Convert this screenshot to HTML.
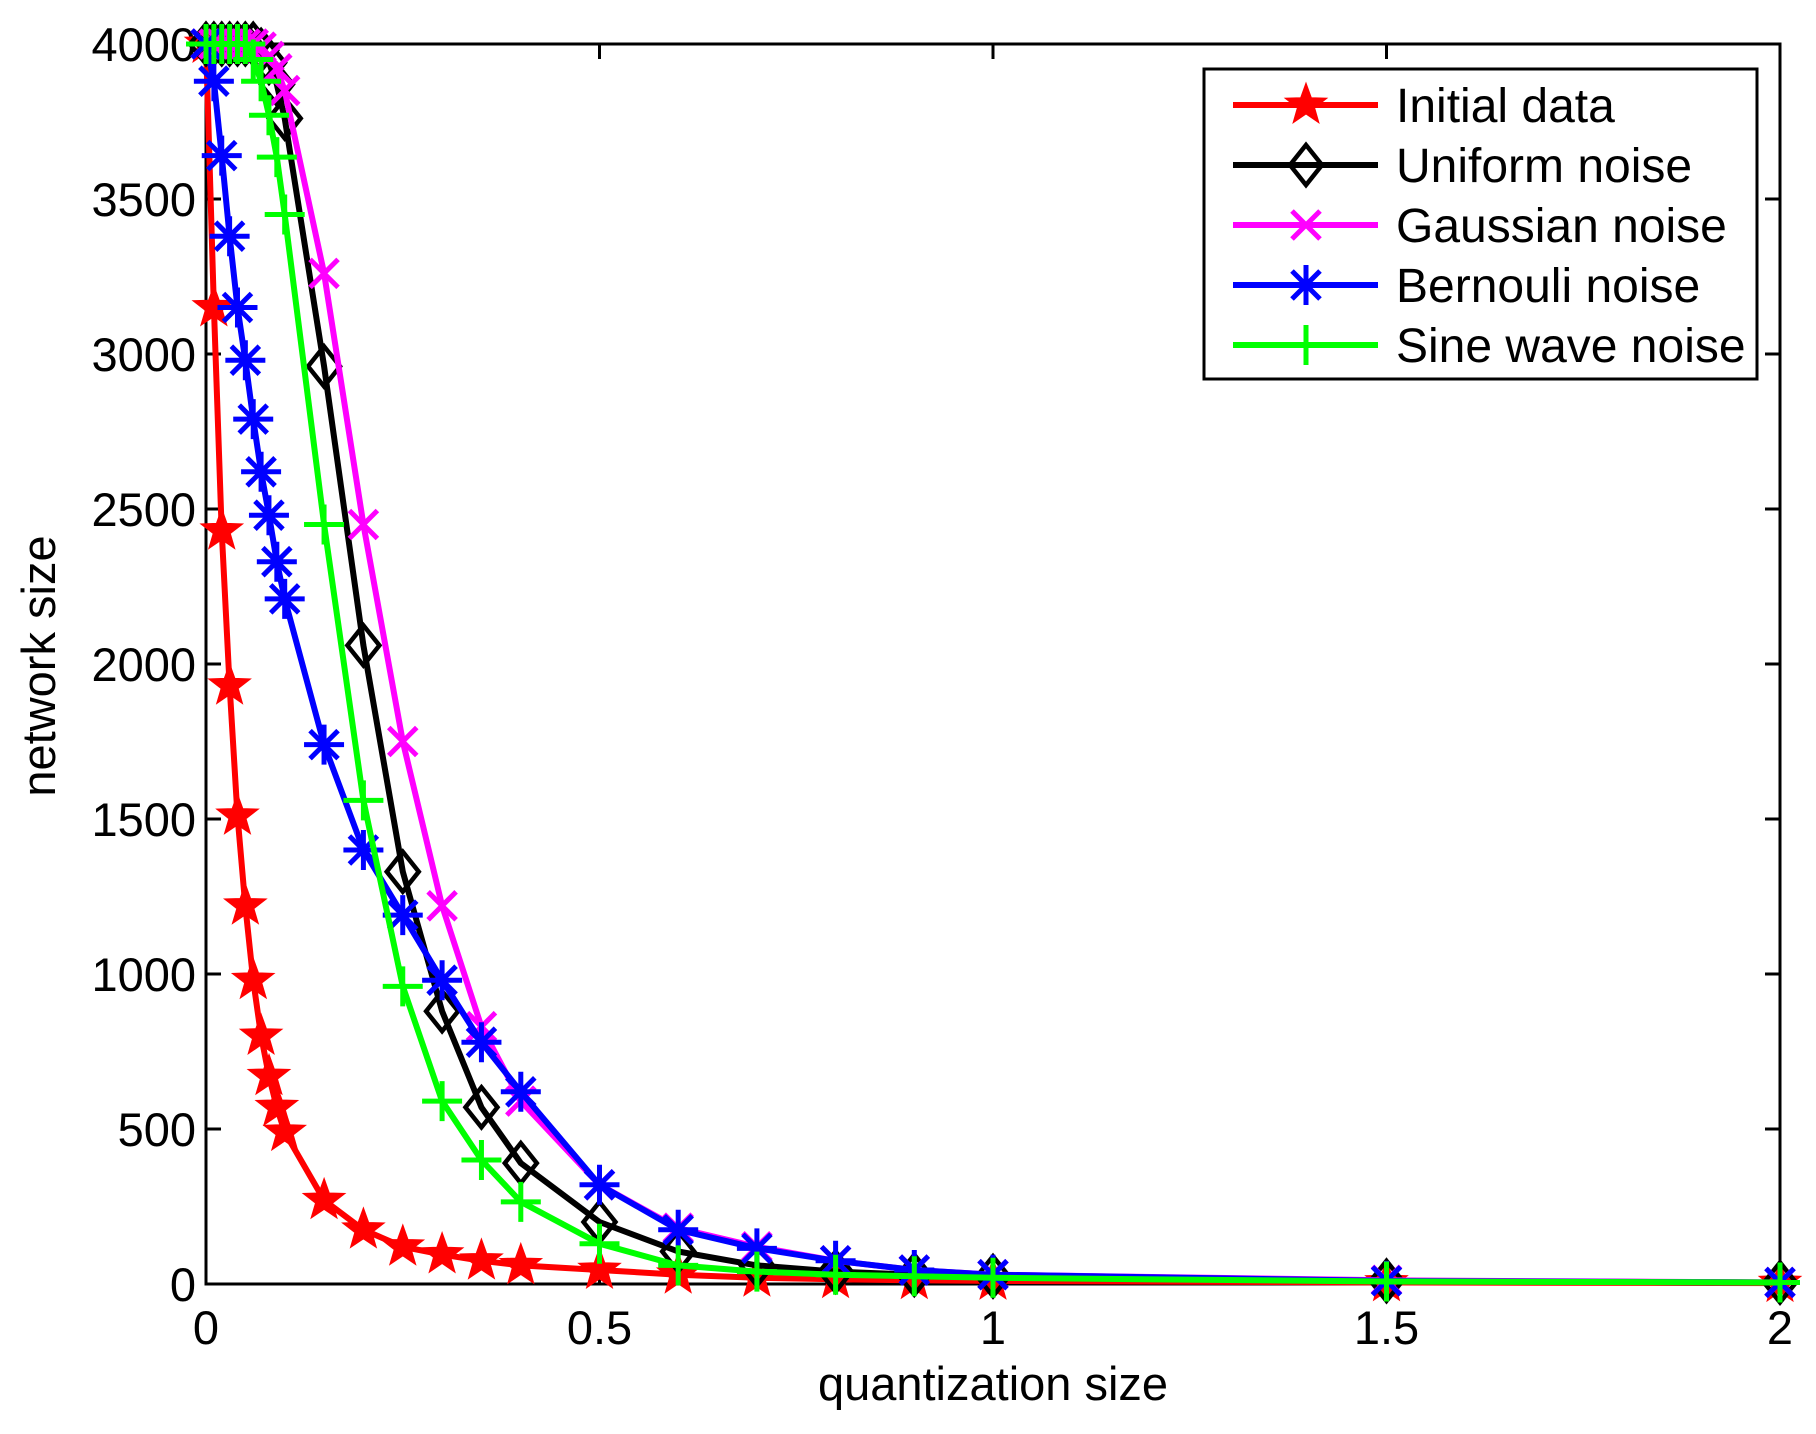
<!DOCTYPE html>
<html><head><meta charset="utf-8"><style>
html,body{margin:0;padding:0;background:#fff;}
svg{display:block;font-family:"Liberation Sans",Arial,sans-serif;}
</style></head><body>
<svg id="chart" width="1816" height="1434" viewBox="0 0 1816 1434" xmlns="http://www.w3.org/2000/svg">
<rect x="0" y="0" width="1816" height="1434" fill="#fff"/>
<g id="axes"></g>
<g id="series"></g>
<g id="legend"></g>
</svg>
<script>
const xValsRed = [0,0.01,0.02,0.03,0.04,0.05,0.06,0.07,0.08,0.09,0.1,0.15,0.2,0.25,0.3,0.35,0.4,0.5,0.6,0.7,0.8,0.9,1,1.5,2];
const xVals = [0,0.01,0.02,0.03,0.04,0.05,0.06,0.07,0.08,0.09,0.1,0.15,0.2,0.25,0.3,0.35,0.4,0.5,0.6,0.7,0.8,0.9,1,1.5,2];
const initialData = [4000,3150,2430,1930,1510,1220,980,800,670,570,490,270,175,120,95,75,60,45,30,20,15,12,10,5,3];
const uniformNoise = [4000,4000,4000,4000,4000,4000,4000,3980,3940,3870,3760,2960,2060,1330,880,570,390,200,105,60,40,30,25,10,5];
const gaussianNoise = [4000,4000,4000,4000,4000,4000,4000,3990,3960,3920,3850,3260,2450,1750,1220,830,590,320,180,120,75,45,30,12,5];
const bernouliNoise = [4000,3880,3640,3380,3150,2980,2790,2620,2480,2330,2210,1740,1400,1190,980,780,620,320,175,115,75,45,30,10,5];
const sineNoise = [4000,4000,4000,4000,4000,4000,3950,3880,3770,3635,3450,2450,1560,960,590,400,265,130,60,40,30,25,20,8,5];
const xTicks = [0,0.5,1,1.5,2];
const xTickLabels = ["0","0.5","1","1.5","2"];
const yTicks = [0,500,1000,1500,2000,2500,3000,3500,4000];
const yTickLabels = ["0","500","1000","1500","2000","2500","3000","3500","4000"];
const legendLabels = ["Initial data","Uniform noise","Gaussian noise","Bernouli noise","Sine wave noise"];

const NS="http://www.w3.org/2000/svg";
const L=206,R=1780,T=44,B=1284;
const sx=v=>L+(v-0)/(2-0)*(R-L);
const sy=v=>B-(v-0)/(4000-0)*(B-T);
function mk(tag,attrs,parent){const e=document.createElementNS(NS,tag);for(const k in attrs)e.setAttribute(k,attrs[k]);parent.appendChild(e);return e;}
const axes=document.getElementById('axes');
const box=mk('rect',{x:L,y:T,width:R-L,height:B-T,fill:'none',stroke:'#000','stroke-width':3},axes);


xTicks.forEach((t,i)=>{
  const x=sx(t);
  const a=mk('line',{x1:x,y1:B,x2:x,y2:B-15,stroke:'#000','stroke-width':3},axes);
  
  
  const b=mk('line',{x1:x,y1:T,x2:x,y2:T+15,stroke:'#000','stroke-width':3},axes);
  
  
  const tx=mk('text',{x:x,y:1344,'font-size':47,'text-anchor':'middle',fill:'#000'},axes);
  tx.textContent=xTickLabels[i];
  
  
});
yTicks.forEach((t,i)=>{
  const y=sy(t);
  const a=mk('line',{x1:L,y1:y,x2:L+15,y2:y,stroke:'#000','stroke-width':3},axes);
  
  
  const b=mk('line',{x1:R,y1:y,x2:R-15,y2:y,stroke:'#000','stroke-width':3},axes);
  
  
  const tx=mk('text',{x:196,y:y+17,'font-size':47,'text-anchor':'end',fill:'#000'},axes);
  tx.textContent=yTickLabels[i];
  
  
});
const xt=mk('text',{x:(L+R)/2,y:1400,'font-size':47,'text-anchor':'middle',fill:'#000'},axes);
xt.textContent='quantization size';


const yt=mk('text',{x:0,y:0,'font-size':47,'text-anchor':'middle',fill:'#000',transform:'translate(55,666) rotate(-90)'},axes);
yt.textContent='network size';



function marker(type,x,y,color,parent){
  const g=mk('g',{},parent);
  const s=20;
  if(type==='star'){
    let p=[];for(let k=0;k<10;k++){const r=k%2?s*0.45:s*1.1;const a=-Math.PI/2+k*Math.PI/5;p.push((x+r*Math.cos(a)).toFixed(1)+','+(y+r*Math.sin(a)).toFixed(1));}
    mk('polygon',{points:p.join(' '),fill:color,stroke:color,'stroke-width':1},g);
  } else if(type==='diamond'){
    mk('polygon',{points:`${x},${y-s} ${x+s*0.8},${y} ${x},${y+s} ${x-s*0.8},${y}`,fill:'none',stroke:color,'stroke-width':4.5},g);
  } else if(type==='x'){
    const d=s*0.7;
    mk('path',{d:`M${x-d},${y-d}L${x+d},${y+d}M${x-d},${y+d}L${x+d},${y-d}`,stroke:color,'stroke-width':5},g);
  } else if(type==='asterisk'){
    const d=s*0.7;
    mk('path',{d:`M${x-d},${y-d}L${x+d},${y+d}M${x-d},${y+d}L${x+d},${y-d}M${x-s},${y}L${x+s},${y}M${x},${y-s}L${x},${y+s}`,stroke:color,'stroke-width':5},g);
  } else {
    mk('path',{d:`M${x-s},${y}L${x+s},${y}M${x},${y-s}L${x},${y+s}`,stroke:color,'stroke-width':5},g);
  }
  return g;
}
const seriesDefs=[
  {name:'initial-data',xs:xValsRed,ys:initialData,color:'#ff0000',m:'star'},
  {name:'uniform-noise',xs:xVals,ys:uniformNoise,color:'#000000',m:'diamond'},
  {name:'gaussian-noise',xs:xVals,ys:gaussianNoise,color:'#ff00ff',m:'x'},
  {name:'bernouli-noise',xs:xVals,ys:bernouliNoise,color:'#0000ff',m:'asterisk'},
  {name:'sine-wave-noise',xs:xVals,ys:sineNoise,color:'#00ff00',m:'plus'}
];
const sg=document.getElementById('series');
seriesDefs.forEach(sd=>{
  const g=mk('g',{},sg);
  
  
  const pts=sd.ys.map((v,i)=>sx(sd.xs[i]).toFixed(1)+','+sy(v).toFixed(1)).join(' ');
  const pl=mk('polyline',{points:pts,fill:'none',stroke:sd.color,'stroke-width':6,'stroke-linejoin':'round'},g);
  
  
  sd.ys.forEach((v,i)=>{
    const m=marker(sd.m,sx(sd.xs[i]),sy(v),sd.color,g);
    
    
  });
});
const lg=document.getElementById('legend');
const lb=mk('rect',{x:1204,y:69,width:553,height:310,fill:'#fff',stroke:'#000','stroke-width':3},lg);


const ly=[105,165,225,285,345];
seriesDefs.forEach((sd,i)=>{
  const g=mk('g',{},lg);
  
  
  mk('line',{x1:1233,y1:ly[i],x2:1378,y2:ly[i],stroke:sd.color,'stroke-width':6},g);
  marker(sd.m,1306,ly[i],sd.color,g);
  const t=mk('text',{x:1396,y:ly[i]+17,'font-size':48,fill:'#000'},g);
  t.textContent=legendLabels[i];
});
</script>
</body></html>
